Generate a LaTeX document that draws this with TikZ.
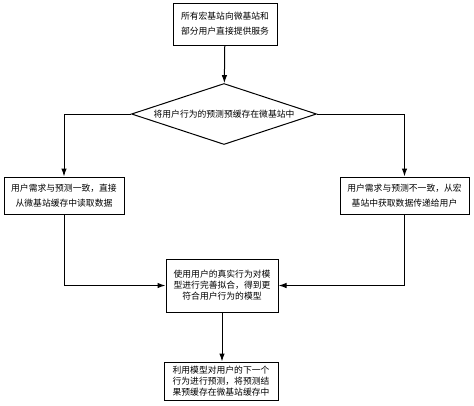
\documentclass[tikz,border=0pt]{standalone}
\usepackage{fontspec}
\newfontfamily\cjk{Noto Sans CJK SC}
\usetikzlibrary{arrows.meta,shapes.geometric}
\tikzset{
  stepbox/.style={draw, line width=1pt, fill=white, align=center, inner sep=2pt,
    font=\cjk\fontsize{8.8}{11}\selectfont},
  loose/.style={font=\cjk\fontsize{8.8}{15}\selectfont},
  decide/.style={draw, diamond, line width=1pt, inner sep=0pt, aspect=3,
    font=\cjk\fontsize{8.8}{11}\selectfont},
  edge/.style={-{Latex[length=8pt,width=5.5pt]}, line width=1pt}
}

\begin{document}
\begin{tikzpicture}[x=1pt, y=-1pt]
  \useasboundingbox (0,0) rectangle (474,405);
  \node[stepbox,loose,minimum width=104pt,minimum height=42pt] (serve) at (225,24)
    {所有宏基站向微基站和\\部分用户直接提供服务};
  \node[decide,minimum width=185pt,minimum height=61pt] (cache) at (224,114)
    {将用户行为的预测预缓存在微基站中};
  \node[stepbox,loose,minimum width=120pt,minimum height=37pt] (hit) at (64,195.5)
    {用户需求与预测一致，直接\\从微基站缓存中读取数据};
  \node[stepbox,loose,minimum width=129pt,minimum height=37pt] (miss) at (404.5,195.5)
    {用户需求与预测不一致，从宏\\基站中获取数据传递给用户};
  \node[stepbox,minimum width=112pt,minimum height=53pt] (fit) at (222,285.5)
    {使用用户的真实行为对模\\型进行完善拟合，得到更\\符合用户行为的模型};
  \node[stepbox,minimum width=114pt,minimum height=38pt] (predict) at (221,381)
    {利用模型对用户的下一个\\行为进行预测，将预测结\\果预缓存在微基站缓存中};

  \draw[edge] (serve) -- (cache);
  \draw[edge] (cache.west) -| (hit.north);
  \draw[edge] (cache.east) -| (miss.north);
  \draw[edge] (hit.south) |- (fit.west);
  \draw[edge] (miss.south) |- (fit.east);
  \draw[edge] (fit.south) -- (fit.south |- predict.north);
\end{tikzpicture}
\end{document}
